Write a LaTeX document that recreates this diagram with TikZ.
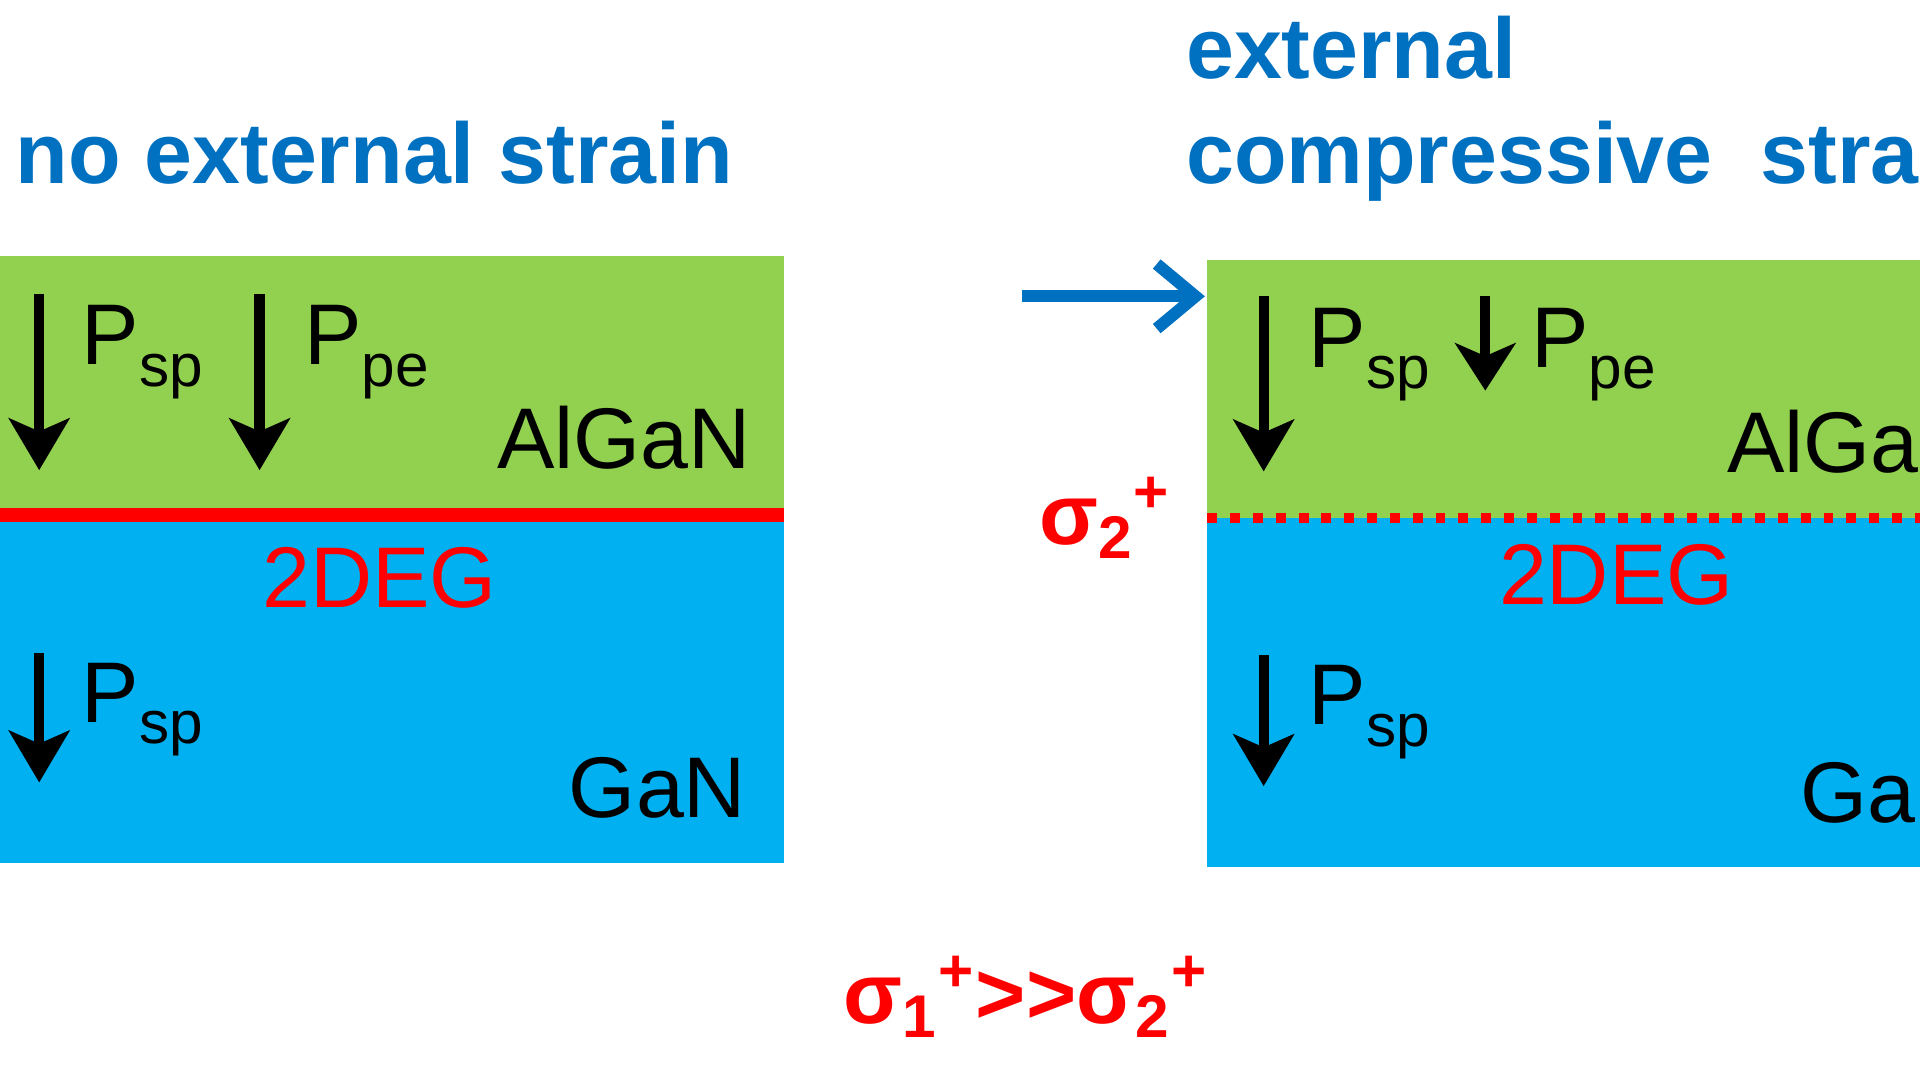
\documentclass[tikz,border=0pt]{standalone}
\usepackage{fontspec}
\setmainfont{Liberation Sans}
\usetikzlibrary{arrows.meta}
\definecolor{lgreen}{HTML}{92D050}
\definecolor{lblue}{HTML}{00B0F0}
\definecolor{tblue}{HTML}{0070C0}
\definecolor{lred}{HTML}{FF0000}
\tikzset{
  parr/.style={line width=2.4pt,-{Stealth[length=12pt,width=14pt,inset=3pt]}},
  sarr/.style={line width=2.4pt,-{Stealth[length=11pt,width=14pt,inset=3pt]}},
  ttl/.style={text=tblue,font=\fontsize{20}{24}\selectfont\bfseries,inner sep=0,anchor=base west},
  lbl/.style={font=\fontsize{20}{24}\selectfont,inner sep=0},
  red/.style={text=lred,font=\fontsize{20}{24}\selectfont,inner sep=0},
}
\newcommand{\Psub}[1]{P\raisebox{-5pt}{\fontsize{14}{16}\selectfont#1}}
\begin{document}
\begin{tikzpicture}[x=0.01cm,y=-0.01cm]
\useasboundingbox (0,0) rectangle (1568,882);
\clip (0,0) rectangle (1568,882);
% left stack
\fill[lgreen] (0,209) rectangle (640,416);
\fill[lblue] (0,424) rectangle (640,705);
\fill[lred] (0,415) rectangle (640,426);
% right stack
\fill[lgreen] (986,212) rectangle (1568,423);
\fill[lblue] (986,423) rectangle (1568,708);
\draw[lred,line width=2.3pt,dash pattern=on 2.3pt off 3pt] (986,423) -- (1568,423);
% titles
\node[ttl] (t1) at (12,150) {no external strain};
\node[ttl] (t2) at (968,64) {external};
\node[ttl] (t3) at (968,150) {compressive\ \ strain};
% left arrows
\coordinate (a1s) at (32,240); \coordinate (a1e) at (32,384);
\draw[parr] (a1s) -- (a1e);
\coordinate (a2s) at (212,240); \coordinate (a2e) at (212,384);
\draw[parr] (a2s) -- (a2e);
\coordinate (a3s) at (32,533); \coordinate (a3e) at (32,639);
\draw[parr] (a3s) -- (a3e);
\node[lbl,anchor=base west] (p1) at (66,298) {\Psub{sp}};
\node[lbl,anchor=base west] (p2) at (248,298) {\Psub{pe}};
\node[lbl,anchor=base west] (p3) at (66,590) {\Psub{sp}};
\node[lbl,anchor=base east] (al1) at (614,383) {AlGaN};
\node[lbl,anchor=base east] (ga1) at (610,668) {GaN};
\node[red,anchor=base] (d1) at (310,496) {2DEG};
% right arrows
\coordinate (b1s) at (1032,242); \coordinate (b1e) at (1032,385);
\draw[parr] (b1s) -- (b1e);
\coordinate (b2s) at (1213,242); \coordinate (b2e) at (1213,319);
\draw[sarr] (b2s) -- (b2e);
\coordinate (b3s) at (1032,535); \coordinate (b3e) at (1032,642);
\draw[parr] (b3s) -- (b3e);
\node[lbl,anchor=base west] (q1) at (1068,300) {\Psub{sp}};
\node[lbl,anchor=base west] (q2) at (1250,300) {\Psub{pe}};
\node[lbl,anchor=base west] (q3) at (1068,592) {\Psub{sp}};
\node[lbl,anchor=base west] (al2) at (1410,386) {AlGaN};
\node[lbl,anchor=base west] (ga2) at (1470,672) {GaN};
\node[red,anchor=base] (d2) at (1320,494) {2DEG};
% compressive arrow
\coordinate (cs) at (835,242); \coordinate (ce) at (984,242);
\draw[draw=tblue,line width=2.8pt,-{Straight Barb[length=9pt,width=15pt,line width=2.8pt]}] (cs) -- (ce);
% sigma labels
\node[red,font=\fontsize{20}{24}\selectfont\bfseries,anchor=base west] (s2) at (848,445) {σ\textsubscript{2}\textsuperscript{+}};
\node[red,font=\fontsize{20}{24}\selectfont\bfseries,anchor=base] (s12) at (838,836) {σ\textsubscript{1}\textsuperscript{+}{>}{>}σ\textsubscript{2}\textsuperscript{+}};
\end{tikzpicture}
\end{document}
